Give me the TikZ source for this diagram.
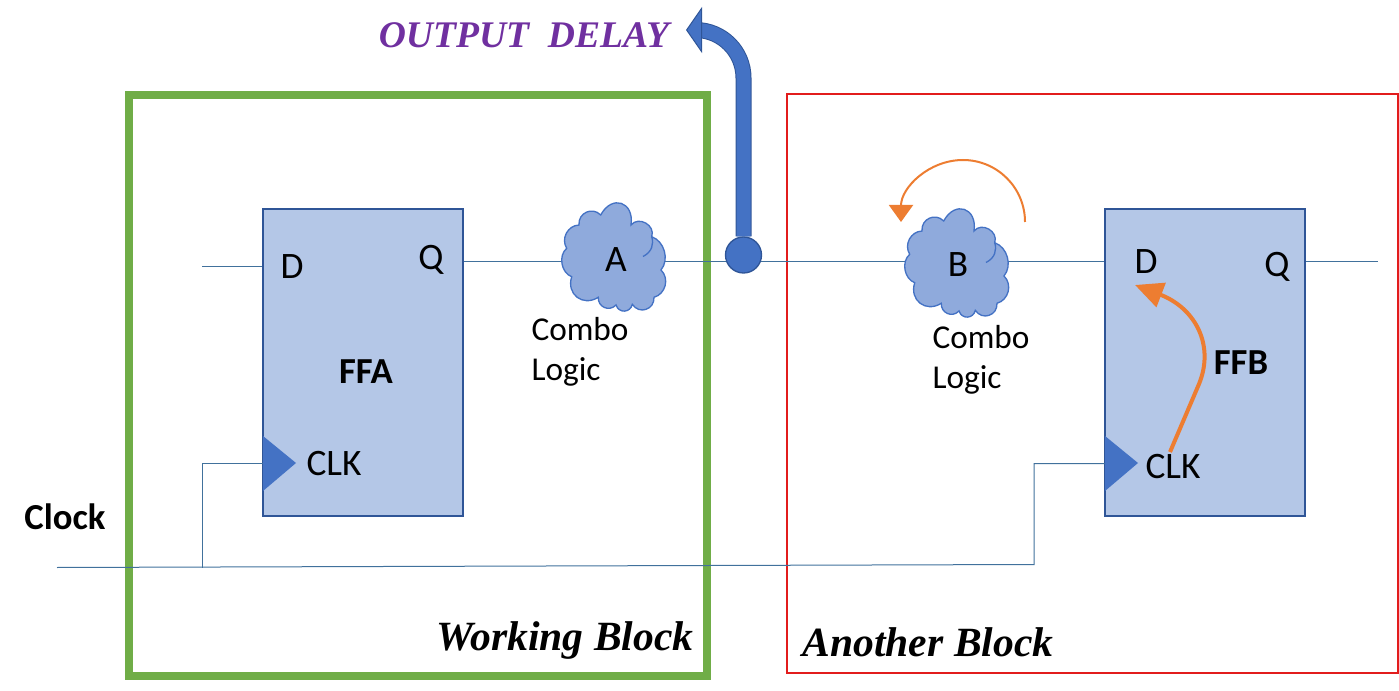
\documentclass[tikz,border=0pt]{standalone}
\usepackage{fontspec}
\setmainfont{Carlito}
\newfontfamily\titlefont{Liberation Serif}
\usetikzlibrary{arrows.meta,shapes.geometric}
\definecolor{boxfill}{RGB}{180,199,231}
\definecolor{boxline}{RGB}{47,85,151}
\definecolor{cloudfill}{RGB}{143,170,220}
\definecolor{blueaccent}{RGB}{68,114,196}
\definecolor{wireblue}{RGB}{65,113,156}
\definecolor{greenframe}{RGB}{112,173,71}
\definecolor{redframe}{RGB}{226,28,28}
\definecolor{orangearrow}{RGB}{237,125,49}
\definecolor{delaypurple}{RGB}{112,48,160}
\tikzset{every picture/.style={line width=0.75pt},
  ffbox/.style={draw=boxline,fill=boxfill,line width=1.5pt,minimum width=150pt,minimum height=230pt,inner sep=0pt},
  combo/.style={minimum width=70pt,minimum height=80pt,inner sep=0pt,font=\fontsize{28}{32}\selectfont},
  combocloud/.pic={
    \draw [draw=blueaccent,fill=cloudfill,line width=1pt] (-15.7,-38.3) to [bend right=70,looseness=1.3] (2,-46) to [bend right=75,looseness=1.4] (18.3,-45.3)
      to [bend right=75,looseness=1.4] (40,-38.3) to [bend right=60,looseness=1.1] (47,-11) to [bend right=55,looseness=1] (37.7,22.3)
      to [bend right=80,looseness=1.3] (17,34) to [bend right=80,looseness=1.9] (-13.3,44) to [bend right=70,looseness=1.3] (-35,34)
      to [bend right=60,looseness=1.1] (-47.3,10.7) to [bend right=60,looseness=1] (-42.3,-17.7) to [bend right=70,looseness=1.4] cycle;
    \draw [draw=blueaccent,line width=1pt] (29,2.5) .. controls (38,7) and (40,15) .. (37.7,22.3);
  },
  wire/.style={draw=wireblue,line width=0.75pt},
  clktri/.style={draw=none,fill=blueaccent},
  lbl/.style={inner sep=0pt,font=\fontsize{28}{32}\selectfont},
  lblbold/.style={inner sep=0pt,font=\fontsize{27.5}{32}\selectfont\bfseries},
  comboname/.style={inner sep=0pt,align=left,font=\fontsize{25}{30}\selectfont},
  delaylbl/.style={inner sep=0pt,font=\titlefont\fontsize{28.2}{34}\selectfont\bfseries\itshape},
  blockname/.style={inner sep=0pt,font=\titlefont\fontsize{31.2}{36}\selectfont\bfseries\itshape}}

\begin{document}
\begin{tikzpicture}[x=0.75pt,y=0.75pt,yscale=-1,xscale=1]
\useasboundingbox (0,0) rectangle (1399,691);

% Block frames
\node (workingframe) [draw=greenframe,line width=6pt,minimum width=433.5pt,minimum height=436pt,inner sep=0pt] at (418,385.3) {};
\node (anotherframe) [draw=redframe,line width=1.5pt,minimum width=458.25pt,minimum height=434.25pt,inner sep=0pt] at (1092.5,383.5) {};

% Flip flops
\node (ffa) [ffbox] at (363,362.5) {};
\node (ffb) [ffbox] at (1205,362.5) {};
\node (ffaname) [lblbold] at (366,372) {FFA};
\node (ffbname) [lblbold] at (1241,363) {FFB};
\node (ffad) [lbl] at (292,267) {D};
\node (ffaq) [lbl] at (431,260) {Q};
\node (ffaclk) [lbl] at (334,464) {CLK};
\node (ffbd) [lbl] at (1146,262) {D};
\node (ffbq) [lbl] at (1277,267) {Q};
\node (ffbclk) [lbl] at (1173,467) {CLK};

% Clock triangles
\coordinate (clkaend) at (263,463.5);
\coordinate (clkbend) at (1105,463.5);
\draw [clktri] (263,436) -- (296,463) -- (263,491) -- cycle;
\draw [clktri] (1105,436) -- (1138,463) -- (1105,491) -- cycle;

% Connection
\coordinate (datalevel) at (463,261.5);
\coordinate (dain) at (202,266.5);
\coordinate (qbout) at (1378,261.5);
\node (clouda) [combo] at (616,260) {};
\node (cloudb) [combo] at (958,265) {};
\draw [wire] (dain) -- (dain -| ffa.west);
\draw [wire] (ffa.east |- datalevel) -- (clouda.west |- datalevel);
\draw [wire] (clouda.east |- datalevel) -- (cloudb.west |- datalevel);
\draw [wire] (cloudb.east |- datalevel) -- (ffb.west |- datalevel);
\draw [wire] (ffb.east |- qbout) -- (qbout);

% Combo clouds
\pic at (614,259) {combocloud};
\pic at (957,265) {combocloud};
\node (labela) [combo] at (clouda) {A};
\node (labelb) [combo] at (cloudb) {B};
\node (comboa) [comboname,anchor=north west] at (531,317) {Combo\\Logic};
\node (combob) [comboname,anchor=north west] at (932,325) {Combo\\Logic};

% Clock wires
\coordinate (clkstart) at (57,567.5);
\coordinate (clkjoin) at (202,567.5);
\coordinate (clkcorner) at (1034,564.5);
\draw [wire] (clkstart) -- (clkcorner) -- (clkcorner |- clkbend) -- (clkbend);
\draw [wire] (clkjoin) -- (clkjoin |- clkaend) -- (clkaend);
\node (clockname) [lblbold] at (65,517) {Clock};

% Output delay arrow
\node (tap) [circle,draw=boxline,fill=blueaccent,line width=1pt,minimum size=27pt,inner sep=0pt] at (743.5,255) {};
\coordinate (outtip) at (686,30);
\draw [draw=boxline,double=blueaccent,double distance=10.5pt,line width=0.75pt,rounded corners=36pt,
  -{Triangle[length=12pt,width=34.5pt,fill=blueaccent,line width=0.75pt]}] (tap.north) |- (outtip);
\node (delayname) [delaylbl,text=delaypurple] at (524,35) {OUTPUT\ \ DELAY};

% Orange arrows
\coordinate (loopstart) at (1025,222);
\draw [draw=orangearrow,line width=1.5pt,-{Triangle[length=12.75pt,width=18pt]}] (loopstart) arc [start angle=0,end angle=-180,radius=62];
\coordinate (pathstart) at (1170,452);
\coordinate (pathtip) at (1135,285);
\draw [draw=orangearrow,line width=3pt,-{Triangle[length=21pt,width=19pt]}] (pathstart) -- (1199,384) .. controls (1215,345) and (1195,308) .. (pathtip);

% Block names
\node (workingname) [blockname,text=black] at (565,640) {Working Block};
\node (anothername) [blockname,text=black] at (928,642) {Another Block};

\end{tikzpicture}
\end{document}
